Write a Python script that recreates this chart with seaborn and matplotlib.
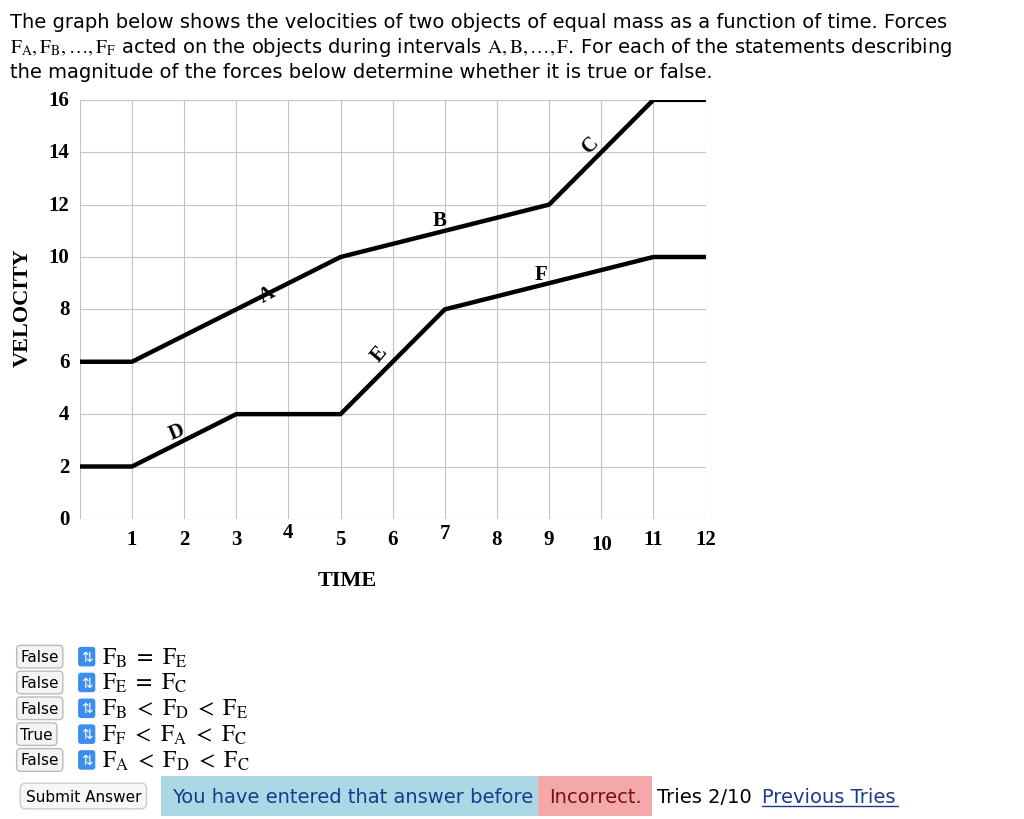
import matplotlib
matplotlib.use("Agg")
import matplotlib.pyplot as plt
import seaborn as sns
import pandas as pd

# object 1 (segments A, B, C) and object 2 (D, E, F)
t_top = [0, 1, 3, 5, 9, 11, 12]
v_top = [6, 6, 8, 10, 12, 16, 16]
t_bot = [0, 1, 3, 5, 7, 9, 11, 12]
v_bot = [2, 2, 4, 4, 8, 9, 10, 10]

seg_labels = ["A", "B", "C", "D", "E", "F"]
seg_x = [3.6, 6.9, 9.8, 1.85, 5.75, 8.85]
seg_y = [8.6, 11.4, 14.3, 3.35, 6.3, 9.35]
seg_rot = [28, 0, 45, 22, 50, 0]

x_ticks = list(range(1, 13))
x_tick_dy = [0, 0, 0, 0.25, 0, 0, 0.2, 0, 0, -0.2, 0, 0]
y_ticks = [0, 2, 4, 6, 8, 10, 12, 14, 16]

statements = [r"$\mathrm{F_B\ =\ F_E}$", r"$\mathrm{F_E\ =\ F_C}$",
              r"$\mathrm{F_B\ <\ F_D\ <\ F_E}$", r"$\mathrm{F_F\ <\ F_A\ <\ F_C}$",
              r"$\mathrm{F_A\ <\ F_D\ <\ F_C}$"]
answers = ["False", "False", "False", "True", "False"]

sns.set_theme(style="white")
plt.rcParams["font.family"] = ["DejaVu Sans"]
plt.rcParams["mathtext.fontset"] = "stix"
plt.rcParams["text.color"] = "black"

fig = plt.figure(figsize=(10.24, 8.2), dpi=100)
ax = fig.add_axes([0.078, 0.366, 0.611, 0.511])

df_top = pd.DataFrame({"t": t_top, "v": v_top})
df_bot = pd.DataFrame({"t": t_bot, "v": v_bot})
sns.lineplot(data=df_top, x="t", y="v", ax=ax, color="black", lw=3.2, sort=False)
sns.lineplot(data=df_bot, x="t", y="v", ax=ax, color="black", lw=3.2, sort=False)

ax.set_xlim(0, 12)
ax.set_ylim(0, 16)
ax.set_xticks(range(0, 13))
ax.set_yticks(y_ticks)
ax.grid(True, color="#c4c4c4", lw=0.8)
for s in ax.spines.values():
    s.set_visible(False)
ax.set_xticklabels([])
ax.set_yticklabels([])
ax.tick_params(length=0)
ax.set_xlabel("")
ax.set_ylabel("")

serif = dict(family="Liberation Serif", fontweight="bold", fontsize=15, color="black")
for x, dy in zip(x_ticks, x_tick_dy):
    ax.text(x, -0.75 + dy, str(x), ha="center", va="center", clip_on=False, **serif)
for y in y_ticks:
    ax.text(-0.2, y, str(y), ha="right", va="center", clip_on=False, **serif)
for lab, x, y, r in zip(seg_labels, seg_x, seg_y, seg_rot):
    ax.text(x, y, lab, ha="center", va="center", rotation=r, **serif)

fig.text(0.339, 0.292, "TIME", ha="center", va="center", family="Liberation Serif",
         fontweight="bold", fontsize=16)
fig.text(0.022, 0.625, "VELOCITY", ha="center", va="center", rotation=90,
         family="Liberation Serif", fontweight="bold", fontsize=16)

# header text
fig.text(0.01, 0.972, "The graph below shows the velocities of two objects of equal mass as a function of time. Forces",
         fontsize=14, va="center")
fig.text(0.01, 0.942, r"$\mathrm{F_A, F_B, \ldots, F_F}$" + " acted on the objects during intervals "
         + r"$\mathrm{A, B, \ldots, F}$" + ". For each of the statements describing",
         fontsize=14, va="center")
fig.text(0.01, 0.912, "the magnitude of the forces below determine whether it is true or false.",
         fontsize=14, va="center")

# answer rows
for i, (ans, st) in enumerate(zip(answers, statements)):
    y = 0.198 - i * 0.0315
    fig.text(0.02, y, ans, fontsize=11, va="center",
             bbox=dict(boxstyle="round,pad=0.25", fc="#f4f4f4", ec="#bbbbbb"))
    fig.text(0.079, y, "\u21c5", fontsize=10, va="center", color="white",
             bbox=dict(boxstyle="round,pad=0.15", fc="#3b8df0", ec="#3b8df0"))
    fig.text(0.1, y, st, fontsize=17, va="center")

fig.text(0.025, 0.028, "Submit Answer", fontsize=11, va="center",
         bbox=dict(boxstyle="round,pad=0.35", fc="#f7f7f7", ec="#cccccc"))
fig.text(0.168, 0.028, "You have entered that answer before", fontsize=14, va="center",
         color="#1a3a8a", bbox=dict(boxstyle="square,pad=0.55", fc="#acd8e6", ec="none"))
fig.text(0.536, 0.028, "Incorrect.", fontsize=14, va="center", color="#7a1010",
         bbox=dict(boxstyle="square,pad=0.55", fc="#f3a9a9", ec="none"))
fig.text(0.642, 0.028, "Tries 2/10", fontsize=14, va="center")
fig.text(0.744, 0.028, "Previous Tries", fontsize=14, va="center", color="#1a3a8a")
fig.add_artist(plt.Line2D([0.744, 0.877], [0.016, 0.016], color="#1a3a8a", lw=1))

fig.savefig("out.png", dpi=100)
